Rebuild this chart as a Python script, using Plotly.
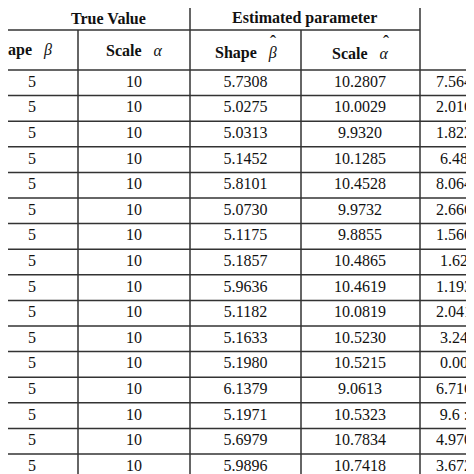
import plotly.graph_objects as go

true_shape = ["5"] * 16
true_scale = ["10"] * 16
est_shape = ["5.7308","5.0275","5.0313","5.1452","5.8101","5.0730","5.1175","5.1857",
             "5.9636","5.1182","5.1633","5.1980","6.1379","5.1971","5.6979","5.9896"]
est_scale = ["10.2807","10.0029","9.9320","10.1285","10.4528","9.9732","9.8855","10.4865",
             "10.4619","10.0819","10.5230","10.5215","9.0613","10.5323","10.7834","10.7418"]
mse = ["7.564","2.016","1.822","6.48","8.064","2.666","1.560","1.62",
       "1.193","2.041","3.24","0.00","6.716","9.6 :","4.970","3.672"]

col_centers = [24, 126, 237.5, 352, 446]
h1, h2 = 22, 62
rh = 25.6
n = len(est_shape)
row_y = [h2 + rh * (i + 0.5) for i in range(n)]

font = dict(family="Liberation Serif", size=16, color="#111")
fig = go.Figure()
for xc, col in zip(col_centers, [true_shape, true_scale, est_shape, est_scale, mse]):
    fig.add_trace(go.Scatter(x=[xc] * n, y=row_y, text=col, mode="text",
                             textfont=font, hoverinfo="skip", showlegend=False))

bold = dict(family="Liberation Serif", size=16, color="#111")
heads = [
    (100, 10, "<b>True Value</b>"),
    (296, 10, "<b>Estimated parameter</b>"),
    (22, 42, "<b>ape</b>   <i>β</i>"),
    (126, 42, "<b>Scale</b>   <i>α</i>"),
    (237.5, 45, "<b>Shape</b>   <i>β</i>"),
    (352, 45, "<b>Scale</b>   <i>α</i>"),
    (466, 32, "<b>M</b>"),
]
for x, y, t in heads:
    fig.add_annotation(x=x, y=y, text=t, showarrow=False, font=bold, xref="x", yref="y")
# hats over estimated symbols
for x in [265, 378]:
    fig.add_annotation(x=x, y=34, text="ˆ", showarrow=False,
                       font=dict(family="Liberation Serif", size=18, color="#111"))

shapes = []
line = dict(color="#333", width=1.5)
shapes.append(dict(type="line", x0=-40, x1=412, y0=h1, y1=h1, line=line))
for i in range(n + 1):
    y = h2 + rh * i
    shapes.append(dict(type="line", x0=-40, x1=520, y0=y, y1=y, line=line))
for x in [70, 182, 293, 412]:
    y0 = h1 if x in (70, 293) else 0
    shapes.append(dict(type="line", x0=x, x1=x, y0=y0, y1=520, line=line))
fig.update_layout(shapes=shapes)

fig.update_layout(width=474, height=474, margin=dict(l=0, r=0, t=0, b=0),
                  paper_bgcolor="white", plot_bgcolor="white",
                  xaxis=dict(range=[0, 474], visible=False, fixedrange=True),
                  yaxis=dict(range=[474, 0], visible=False, fixedrange=True))
fig.write_html("out.html")
